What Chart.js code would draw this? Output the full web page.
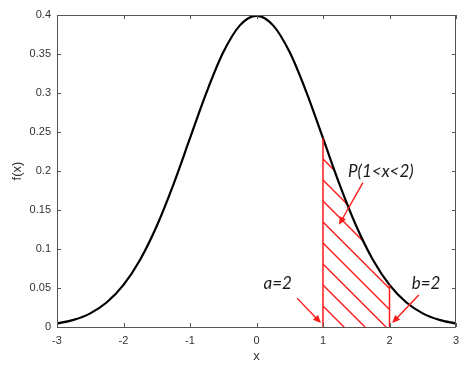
<!DOCTYPE html>
<html>
<head>
<meta charset="utf-8">
<script src="https://cdn.jsdelivr.net/npm/chart.js@4.4.1/dist/chart.umd.min.js"></script>
<style>
  html, body { margin: 0; padding: 0; background: #fff; }
  #wrap { width: 474px; height: 366px; }
</style>
</head>
<body>
<div id="wrap"><canvas id="myChart"></canvas></div>
<script>
// values
const xs = [-3, -2.75, -2.5, -2.25, -2, -1.75, -1.5, -1.25, -1, -0.75, -0.5, -0.25, 0,
            0.25, 0.5, 0.75, 1, 1.25, 1.5, 1.75, 2, 2.25, 2.5, 2.75, 3];
const fx = [0.0044, 0.0091, 0.0175, 0.0317, 0.054, 0.0863, 0.1295, 0.1826, 0.242, 0.3011, 0.3521, 0.3867, 0.3989,
            0.3867, 0.3521, 0.3011, 0.242, 0.1826, 0.1295, 0.0863, 0.054, 0.0317, 0.0175, 0.0091, 0.0044];
const xTicks = [-3, -2, -1, 0, 1, 2, 3];
const yTicks = [0, 0.05, 0.1, 0.15, 0.2, 0.25, 0.3, 0.35, 0.4];
const lowerB = 1;
const upperB = 2;

// labels: [text, x, y], arrows: [fromX, fromY, toX, toY]
const notes = [["P(1<x<2)", 1.87, 0.199], ["a=2", 0.32, 0.056], ["b=2", 2.55, 0.056]];
const arrows = [[1.60, 0.185, 1.24, 0.131], [0.61, 0.037, 0.97, 0.005], [2.44, 0.041, 2.04, 0.005]];

const red = '#ff1a1a';
const curve = xs.map((x, i) => ({x: x, y: fx[i]}));
const area = curve.filter(p => p.x >= lowerB && p.x <= upperB);
const lineA = [{x: lowerB, y: 0}, {x: lowerB, y: fx[xs.indexOf(lowerB)]}];
const lineB = [{x: upperB, y: 0}, {x: upperB, y: fx[xs.indexOf(upperB)]}];

// hatch under the curve between the bounds
const hatchPlugin = {
  id: 'hatch',
  beforeDatasetsDraw(chart) {
    const {ctx, chartArea: a, scales} = chart;
    ctx.save();
    ctx.beginPath();
    ctx.moveTo(scales.x.getPixelForValue(lowerB), scales.y.getPixelForValue(0));
    area.forEach(p => ctx.lineTo(scales.x.getPixelForValue(p.x), scales.y.getPixelForValue(p.y)));
    ctx.lineTo(scales.x.getPixelForValue(upperB), scales.y.getPixelForValue(0));
    ctx.closePath();
    ctx.clip();
    ctx.strokeStyle = red;
    ctx.lineWidth = 1.4;
    ctx.beginPath();
    for (let c = -630; c < 630; c += 21) {
      // lines y = x + c + 4 in pixels
      ctx.moveTo(a.left, a.left + c + 4);
      ctx.lineTo(a.right, a.right + c + 4);
    }
    ctx.stroke();
    ctx.restore();
  }
};

const boxPlugin = {
  id: 'box',
  afterDatasetsDraw(chart) {
    const {ctx, chartArea: a, scales} = chart;
    ctx.save();
    ctx.strokeStyle = '#555';
    ctx.lineWidth = 1;
    ctx.strokeRect(a.left + 0.5, a.top + 0.5, a.right - a.left - 1, a.bottom - a.top);
    ctx.beginPath();
    xTicks.forEach(v => {
      const px = Math.round(scales.x.getPixelForValue(v)) + 0.5;
      ctx.moveTo(px, a.bottom); ctx.lineTo(px, a.bottom - 4);
      ctx.moveTo(px, a.top); ctx.lineTo(px, a.top + 4);
    });
    yTicks.forEach(v => {
      const py = Math.round(scales.y.getPixelForValue(v)) + 0.5;
      ctx.moveTo(a.left, py); ctx.lineTo(a.left + 4, py);
      ctx.moveTo(a.right, py); ctx.lineTo(a.right - 4, py);
    });
    ctx.stroke();

    // arrows
    ctx.strokeStyle = red;
    ctx.fillStyle = red;
    ctx.lineWidth = 1.4;
    arrows.forEach(r => {
      const x0 = scales.x.getPixelForValue(r[0]), y0 = scales.y.getPixelForValue(r[1]);
      const x1 = scales.x.getPixelForValue(r[2]), y1 = scales.y.getPixelForValue(r[3]);
      const ang = Math.atan2(y1 - y0, x1 - x0);
      ctx.beginPath();
      ctx.moveTo(x0, y0);
      ctx.lineTo(x1 - 5 * Math.cos(ang), y1 - 5 * Math.sin(ang));
      ctx.stroke();
      ctx.beginPath();
      ctx.moveTo(x1, y1);
      ctx.lineTo(x1 - 8 * Math.cos(ang) + 3.5 * Math.sin(ang), y1 - 8 * Math.sin(ang) - 3.5 * Math.cos(ang));
      ctx.lineTo(x1 - 8 * Math.cos(ang) - 3.5 * Math.sin(ang), y1 - 8 * Math.sin(ang) + 3.5 * Math.cos(ang));
      ctx.closePath();
      ctx.fill();
    });

    ctx.fillStyle = '#1a1a1a';
    ctx.font = 'italic 17px Lato, "Open Sans", sans-serif';
    ctx.textAlign = 'center';
    ctx.textBaseline = 'middle';
    notes.forEach(n => {
      ctx.fillText(n[0], scales.x.getPixelForValue(n[1]), scales.y.getPixelForValue(n[2]));
    });
    ctx.restore();
  }
};

const config = {
  type: 'scatter',
  data: {
    datasets: [
      { data: lineA, showLine: true, borderColor: red, borderWidth: 1.5, pointRadius: 0 },
      { data: lineB, showLine: true, borderColor: red, borderWidth: 1.5, pointRadius: 0 },
      {
        data: curve,
        showLine: true,
        borderColor: '#000',
        borderWidth: 2.2,
        pointRadius: 0,
        cubicInterpolationMode: 'monotone'
      }
    ]
  },
  options: {
    responsive: true,
    maintainAspectRatio: false,
    animation: false,
    layout: { padding: { left: 0, right: 18, top: 15, bottom: 0 } },
    plugins: { legend: { display: false }, tooltip: { enabled: false } },
    scales: {
      x: {
        type: 'linear',
        min: -3, max: 3,
        afterBuildTicks: s => { s.ticks = xTicks.map(v => ({value: v})); },
        afterFit: s => { s.height = 39; },
        grid: { display: false, drawTicks: false },
        border: { display: false },
        ticks: { padding: 7, color: '#333', font: { family: 'Liberation Sans', size: 11 } },
        title: { display: true, text: 'x', color: '#333', padding: { top: 0, bottom: 2 }, font: { family: 'Liberation Sans', size: 13 } }
      },
      y: {
        min: 0, max: 0.4,
        afterBuildTicks: s => { s.ticks = yTicks.map(v => ({value: v})); },
        afterFit: s => { s.width = 57; },
        grid: { display: false, drawTicks: false },
        border: { display: false },
        ticks: {
          padding: 6, color: '#333', font: { family: 'Liberation Sans', size: 11 },
          callback: v => String(Number(v.toFixed(2)))
        },
        title: { display: true, text: 'f(x)', color: '#333', padding: { top: 10, bottom: 0 }, font: { family: 'Liberation Sans', size: 13 } }
      }
    }
  },
  plugins: [hatchPlugin, boxPlugin]
};

var myChart = new Chart(document.getElementById('myChart'), config);
</script>
</body>
</html>
